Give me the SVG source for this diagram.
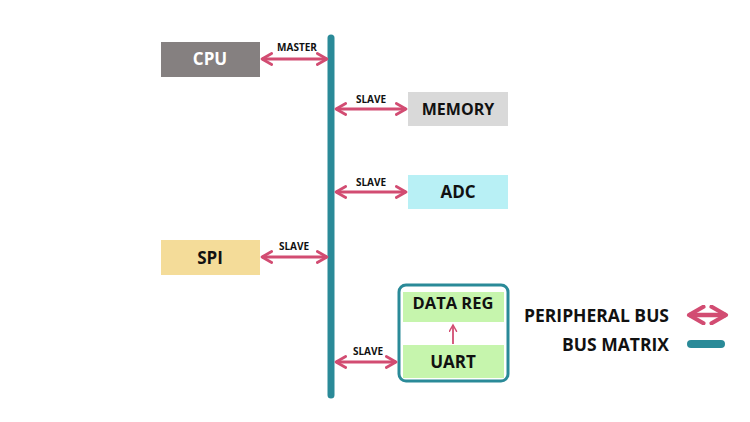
<svg xmlns="http://www.w3.org/2000/svg" width="750" height="422" viewBox="0 0 750 422">
<style>
text{font-family:"Open Sans","DejaVu Sans",sans-serif;font-weight:bold;fill:#111}
.lbl{font-size:10px;text-anchor:middle}
.big{font-size:16px;text-anchor:middle}
.conn{stroke:#d24c72;stroke-width:3;fill:none;marker-start:url(#a);marker-end:url(#a)}
</style>
<defs>
<marker id="a" viewBox="0 0 10 10" refX="8" refY="5" markerWidth="4.6" markerHeight="4.6" orient="auto-start-reverse"><path d="M1,1 L8,5 L1,9" fill="none" stroke="#d24c72" stroke-width="2" stroke-linecap="round" stroke-linejoin="round"/></marker>
<marker id="s" viewBox="0 0 10 10" refX="8" refY="5" markerWidth="5" markerHeight="5" orient="auto"><path d="M1,1 L8,5 L1,9" fill="none" stroke="#d24c72" stroke-width="1.6" stroke-linecap="round"/></marker>
</defs>
<rect width="750" height="422" fill="#fff"/>
<g id="busmatrix"><line x1="331" y1="38" x2="331" y2="395" stroke="#2a8a98" stroke-width="7" stroke-linecap="round"/></g>
<g id="cpu"><rect x="161" y="42" width="99" height="35" fill="#858080"/><text class="big" x="210" y="65" style="fill:#fff;font-size:17px">CPU</text></g>
<g id="memory"><rect x="408" y="92" width="100" height="34" fill="#d9d9d9"/><text class="big" x="458" y="115">MEMORY</text></g>
<g id="adc"><rect x="408" y="175" width="100" height="34" fill="#b8f0f5"/><text class="big" x="458" y="198" style="font-size:17px">ADC</text></g>
<g id="spi"><rect x="161" y="240" width="99" height="35" fill="#f4dc99"/><text class="big" x="210" y="264" style="font-size:17px">SPI</text></g>
<g id="uart">
<rect x="399" y="285" width="109" height="96" rx="7" fill="#fff" stroke="#2a8a98" stroke-width="3"/>
<rect x="403" y="292" width="101" height="30" fill="#c6f5ad"/>
<rect x="403" y="345" width="101" height="33" fill="#c6f5ad"/>
<text class="big" x="453" y="309" style="font-size:16.5px">DATA REG</text>
<text class="big" x="453" y="368" style="font-size:17px">UART</text>
<line x1="453" y1="344" x2="453" y2="325" stroke="#d24c72" stroke-width="1.8" marker-end="url(#s)"/>
</g>
<g id="connectors">
<line class="conn" x1="262" y1="59" x2="327" y2="59"/>
<line class="conn" x1="336" y1="109" x2="406" y2="109"/>
<line class="conn" x1="336" y1="192" x2="406" y2="192"/>
<line class="conn" x1="262" y1="257" x2="327" y2="257"/>
<line class="conn" x1="336" y1="362" x2="396" y2="362"/>
<text class="lbl" x="297" y="51">MASTER</text>
<text class="lbl" x="371" y="103">SLAVE</text>
<text class="lbl" x="371" y="186">SLAVE</text>
<text class="lbl" x="294" y="250">SLAVE</text>
<text class="lbl" x="368" y="355">SLAVE</text>
</g>
<g id="legend">
<text x="669" y="322" style="font-size:17.5px;text-anchor:end">PERIPHERAL BUS</text>
<line x1="689" y1="315" x2="726" y2="315" stroke="#d24c72" stroke-width="4.5" marker-start="url(#a)" marker-end="url(#a)"/>
<text x="669" y="351" style="font-size:17.5px;text-anchor:end">BUS MATRIX</text>
<line x1="691" y1="344" x2="721" y2="344" stroke="#2a8a98" stroke-width="8" stroke-linecap="round"/>
</g>
</svg>
